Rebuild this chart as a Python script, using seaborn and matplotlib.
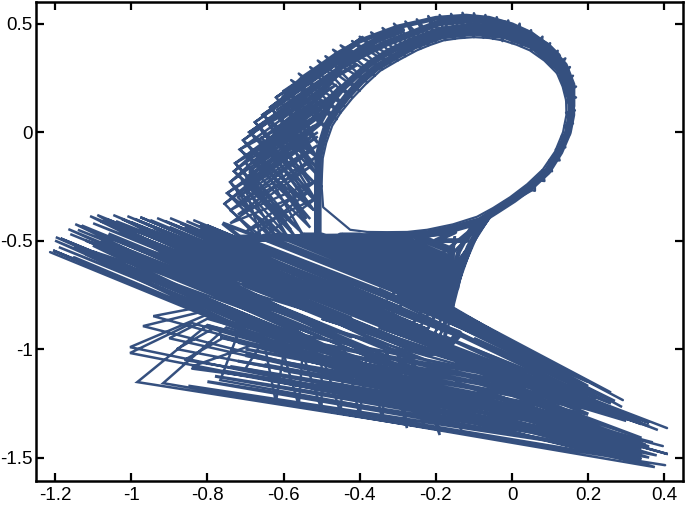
import matplotlib
matplotlib.use("Agg")
import matplotlib.pyplot as plt
import seaborn as sns

x_ticks = [-1.2, -1, -0.8, -0.6, -0.4, -0.2, 0, 0.2, 0.4]
x_tick_labels = ["-1.2", "-1", "-0.8", "-0.6", "-0.4", "-0.2", "0", "0.2", "0.4"]
y_ticks = [-1.5, -1, -0.5, 0, 0.5]
y_tick_labels = ["-1.5", "-1", "-0.5", "0", "0.5"]

ring_x = [-0.60,-0.46,-0.58,-0.45,-0.56,-0.44,-0.53,-0.42,-0.51,-0.40,-0.49,-0.38,-0.47,-0.36,-0.45,-0.34,-0.42,-0.32,-0.40,-0.30,
          -0.37,-0.28,-0.34,-0.26,-0.31,-0.24,-0.28,-0.22,-0.25,-0.20,-0.22,-0.175,-0.19,-0.15,-0.16,-0.125,-0.13,-0.10,-0.10,-0.075,
          -0.07,-0.05,-0.04,-0.025,-0.01,0.0,0.02,0.025,0.05,0.05,0.08,0.072,0.10,0.09,0.12,0.105,0.14,0.118,0.152,0.127,
          0.16,0.135,0.168,0.14,0.168,0.142,0.165,0.142,0.16,0.138,0.152,0.13,0.14,0.115,0.125,0.098,0.105,0.08,0.085,0.06,0.06,0.03]
ring_y = [0.19,0.06,0.24,0.09,0.27,0.12,0.30,0.16,0.33,0.19,0.35,0.23,0.38,0.26,0.40,0.29,0.42,0.315,0.44,0.33,
          0.46,0.35,0.48,0.37,0.50,0.385,0.51,0.40,0.52,0.415,0.535,0.425,0.54,0.43,0.545,0.435,0.55,0.438,0.548,0.435,
          0.54,0.43,0.53,0.42,0.515,0.41,0.50,0.395,0.47,0.375,0.44,0.35,0.41,0.33,0.375,0.30,0.34,0.272,0.30,0.24,
          0.26,0.21,0.21,0.18,0.16,0.147,0.10,0.09,0.04,0.03,-0.01,-0.02,-0.07,-0.08,-0.13,-0.13,-0.18,-0.175,-0.225,-0.22,-0.27,-0.26]

inner_x = [-0.50,-0.499,-0.497,-0.488,-0.472,-0.45,-0.42,-0.385,-0.346,-0.30,-0.25,-0.215,-0.18,-0.14,-0.10,-0.06,-0.024,0.012,0.047,0.085,
           0.118,0.133,0.142,0.143,0.134,0.113,0.081,0.04,-0.005,-0.05,-0.092,-0.155,-0.223,-0.275,-0.328,-0.38,-0.425,-0.496,-0.50]
inner_y = [-0.25,-0.19,-0.12,-0.05,0.03,0.09,0.155,0.22,0.283,0.33,0.377,0.402,0.423,0.433,0.438,0.434,0.423,0.403,0.377,0.33,
           0.272,0.21,0.147,0.08,0.0,-0.09,-0.172,-0.24,-0.30,-0.35,-0.39,-0.425,-0.45,-0.46,-0.461,-0.46,-0.45,-0.346,-0.25]

body1_x = [-0.51,-0.51,-0.509,-0.50,-0.485,-0.462,-0.432,-0.397,-0.356,-0.308,-0.257,-0.185,-0.10,-0.02,0.055,0.128,0.155,0.156,0.147,0.125,0.093,0.05,0.004,-0.04,-0.085,-0.155,-0.223,-0.30,-0.45,-0.72]
body1_y = [-0.48,-0.25,-0.12,-0.05,0.035,0.10,0.168,0.235,0.298,0.348,0.398,0.445,0.462,0.447,0.398,0.286,0.15,0.08,0.0,-0.09,-0.18,-0.25,-0.31,-0.36,-0.41,-0.445,-0.47,-0.48,-0.485,-0.49]
body2_x = [-0.505,-0.48,-0.447,-0.41,-0.37,-0.325,-0.265,-0.19,-0.10,-0.02,0.05,0.10,0.14,0.155]
body2_y = [0.05,0.13,0.20,0.26,0.32,0.37,0.42,0.47,0.49,0.475,0.43,0.37,0.28,0.20]
body3_x = [-0.44,-0.39,-0.33,-0.27,-0.19,-0.10,-0.02,0.04,0.09,0.12]
body3_y = [0.31,0.36,0.41,0.45,0.505,0.52,0.50,0.455,0.40,0.35]
body4_x = [-0.47,-0.44,-0.39,-0.35,-0.29]
body4_y = [0.25,0.33,0.39,0.43,0.47]
edge_x = [-0.60,-0.55,-0.50,-0.46,-0.40,-0.30,-0.20,-0.12,-0.06,0.0,0.05,0.10,0.14,0.16,0.16]
edge_y = [0.16,0.25,0.31,0.36,0.42,0.485,0.525,0.535,0.525,0.495,0.455,0.39,0.31,0.22,0.12]
row1_x = [-0.57,-0.52,-0.47,-0.42]
row1_y = [0.19,0.26,0.32,0.37]
row2_x = [-0.55,-0.50,-0.46,-0.41]
row2_y = [0.13,0.20,0.26,0.31]
row3_x = [-0.52,-0.49,-0.45]
row3_y = [0.07,0.14,0.21]

lattice_x = [-0.755,-0.51,-0.748,-0.62,-0.74,-0.49,-0.727,-0.56,-0.73,-0.48,-0.715,-0.53,-0.706,-0.46,-0.69,-0.51,-0.675,-0.43,-0.655,-0.51,-0.635,-0.41,-0.62,-0.51,-0.60,-0.39,
             -0.62,-0.40,-0.635,-0.51,-0.655,-0.42,-0.675,-0.52,-0.69,-0.44,-0.706,-0.52,-0.715,-0.47,-0.73,-0.58,-0.727,-0.50,-0.74,-0.60,-0.748,-0.50,-0.755,-0.66]
lattice_y = [-0.33,-0.02,-0.281,-0.51,-0.23,0.09,-0.143,-0.45,-0.18,0.14,-0.08,-0.40,-0.037,0.27,0.0,-0.33,0.046,0.35,0.08,-0.17,0.115,0.40,0.16,-0.05,0.19,0.44,
             0.16,0.43,0.115,-0.12,0.08,0.37,0.046,-0.23,0.0,0.31,-0.037,-0.36,-0.08,0.23,-0.18,-0.45,-0.143,0.15,-0.23,-0.48,-0.281,0.04,-0.33,-0.50]
rising_x = [-0.65,-0.51,-0.70,-0.51,-0.72,-0.51,-0.72,-0.51,-0.71,-0.51,-0.70,-0.50,-0.69,-0.49,-0.68,-0.48,-0.66,-0.46,-0.64,-0.45,-0.62,-0.43]
rising_y = [-0.48,-0.30,-0.46,-0.22,-0.38,-0.11,-0.33,-0.06,-0.27,0.0,-0.21,0.05,-0.15,0.10,-0.09,0.16,-0.03,0.22,0.04,0.28,0.10,0.33]
falling_x = [-0.72,-0.62,-0.71,-0.57,-0.70,-0.53,-0.68,-0.52,-0.66,-0.52,-0.64,-0.51,-0.62,-0.51,-0.60,-0.51,-0.58,-0.49,-0.56,-0.47]
falling_y = [-0.30,-0.48,-0.22,-0.48,-0.14,-0.44,-0.08,-0.36,-0.02,-0.30,0.04,-0.20,0.09,-0.12,0.13,-0.05,0.17,0.02,0.21,0.08]
rising2_x = [-0.68,-0.53,-0.74,-0.53,-0.74,-0.53,-0.72,-0.53,-0.70,-0.52,-0.69,-0.52,-0.67,-0.51,-0.65,-0.49,-0.63,-0.47,-0.61,-0.45]
rising2_y = [-0.48,-0.27,-0.42,-0.16,-0.36,-0.09,-0.30,-0.03,-0.24,0.03,-0.18,0.07,-0.12,0.11,-0.06,0.18,0.0,0.24,0.06,0.30]
falling2_x = [-0.74,-0.66,-0.70,-0.59,-0.69,-0.55,-0.67,-0.54,-0.65,-0.54,-0.63,-0.53,-0.61,-0.53,-0.59,-0.53,-0.57,-0.52]
falling2_y = [-0.36,-0.48,-0.26,-0.48,-0.18,-0.47,-0.11,-0.40,-0.05,-0.32,0.01,-0.24,0.07,-0.16,0.11,-0.08,0.15,-0.02]

wing_x = [-1.213,-0.30,-1.205,-0.42,-1.20,-0.22,-1.19,-0.50,-1.198,-0.30,-1.185,-0.42,-1.165,-0.22,-1.16,-0.50,-1.15,-0.30,-1.147,-0.42,
          -1.14,-0.22,-1.13,-0.50,-1.12,-0.30,-1.108,-0.42,-1.10,-0.22,-1.10,-0.50,-1.089,-0.30,-1.08,-0.42,-1.08,-0.22,-1.065,-0.50,
          -1.047,-0.30,-1.04,-0.42,-1.03,-0.22,-1.025,-0.50,-1.01,-0.30,-1.0,-0.42,-0.99,-0.22,-0.976,-0.50,-0.965,-0.30,-0.95,-0.42,
          -0.932,-0.22,-0.925,-0.50,-0.91,-0.30,-0.898,-0.42,-0.885,-0.22,-0.87,-0.50,-0.855,-0.30,-0.837,-0.42,-0.82,-0.22,-0.80,-0.50,-0.785,-0.30]
wing_y = [-0.553,-1.21,-0.545,-1.11,-0.50,-1.206,-0.53,-1.027,-0.484,-1.131,-0.49,-1.041,-0.447,-1.127,-0.47,-0.945,-0.53,-1.142,-0.424,-0.947,
          -0.45,-1.112,-0.43,-0.884,-0.50,-1.09,-0.387,-0.882,-0.42,-1.054,-0.55,-0.982,-0.382,-0.95,-0.41,-0.885,-0.53,-1.149,-0.40,-0.807,
          -0.382,-0.92,-0.41,-0.856,-0.50,-1.083,-0.40,-0.778,-0.387,-0.898,-0.415,-0.833,-0.40,-0.954,-0.392,-0.735,-0.42,-0.899,-0.405,-0.787,
          -0.396,-0.909,-0.43,-0.736,-0.41,-0.849,-0.396,-0.74,-0.43,-0.909,-0.42,-0.686,-0.41,-0.81,-0.405,-0.705,-0.43,-0.862,-0.43,-0.646,-0.452,-0.801]
wing_fill_x = [-1.15,-0.70,-1.12,-0.70,-1.10,-0.70,-1.08,-0.70,-1.06,-0.70,-1.02,-0.70,-0.98,-0.70,-0.94,-0.70,-0.90,-0.70,-0.86,-0.70,-0.82,-0.70,-0.78,-0.68,-0.76,-0.64]
wing_fill_y = [-0.58,-0.91,-0.56,-0.86,-0.52,-0.81,-0.50,-0.77,-0.47,-0.73,-0.46,-0.69,-0.45,-0.65,-0.44,-0.61,-0.44,-0.585,-0.44,-0.555,-0.45,-0.53,-0.47,-0.53,-0.42,-0.50]

tail_upper_x = [0.291,-0.45,0.289,-0.40,0.26,-0.30,0.24,-0.35,0.20,-0.25,0.22,-0.40,0.15,-0.30,0.10,-0.20,0.12,-0.45,0.05,-0.25,0.0,-0.35,0.02,-0.30]
tail_upper_y = [-1.235,-0.55,-1.267,-0.62,-1.20,-0.68,-1.22,-0.72,-1.17,-0.74,-1.23,-0.70,-1.12,-0.66,-1.08,-0.78,-1.12,-0.60,-1.03,-0.75,-0.99,-0.66,-1.03,-0.75]
tail_mid_x = [0.407,-0.55,0.383,-0.50,0.36,-0.60,0.33,-0.45,0.30,-0.55,0.26,-0.40,0.22,-0.50,0.16,-0.35,0.12,-0.45]
tail_mid_y = [-1.364,-0.72,-1.373,-0.78,-1.34,-0.72,-1.32,-0.80,-1.32,-0.80,-1.28,-0.85,-1.26,-0.86,-1.22,-0.90,-1.20,-0.92]
tail_low_x = [0.396,-0.75,0.409,-0.80,0.37,-0.72,0.35,-0.766,0.32,-0.60,0.28,-0.70,0.24,-0.55,0.20,-0.65,0.15,-0.60,0.10,-0.50]
tail_low_y = [-1.447,-0.92,-1.484,-0.889,-1.43,-0.97,-1.44,-0.945,-1.42,-1.0,-1.40,-1.02,-1.37,-1.05,-1.36,-1.07,-1.33,-1.10,-1.30,-1.12]
tail_left_x = [0.402,-0.984,-0.80,0.375,-0.916,-0.75,0.36,-0.766,-0.72,0.38,-1.003,-0.84,0.34,-1.003,-0.80,0.30,-0.969,-0.82,0.28,-0.942,-0.80,0.25,-0.84,-0.68,0.22,-0.70,-0.66,0.21,-0.90,-0.80,0.2,-0.88,-0.78,0.19,-0.86,-0.76,0.18,-0.84]
tail_left_y = [-1.535,-1.152,-0.889,-1.544,-1.157,-0.90,-1.50,-1.143,-0.93,-1.49,-1.018,-0.88,-1.48,-0.991,-0.84,-1.46,-0.894,-0.83,-1.44,-0.848,-0.80,-1.43,-1.08,-0.98,-1.41,-1.09,-0.98,-1.39,-0.95,-0.86,-1.37,-1.00,-0.90,-1.35,-1.05,-0.95,-1.33,-1.09]

long_x = [-0.65,0.2,-0.65,0.2,-0.65,0.2,-0.70,0.2,-0.70,0.2,-0.70,0.2,-0.72,0.2,-0.74,0.2,-0.76,0.2,-0.78,0.2,-0.80,0.2,-0.85,0.2]
long_y = [-0.90,-1.20,-0.93,-1.225,-0.96,-1.25,-0.97,-1.275,-1.00,-1.30,-1.03,-1.325,-1.055,-1.35,-1.08,-1.375,-1.10,-1.40,-1.125,-1.425,-1.15,-1.45,-1.17,-1.475]
tail_fill_x = [-0.18,0.2,-0.18,0.2,-0.18,0.2,-0.18,0.2,-0.18,0.18,-0.15,0.2,-0.15,0.22,-0.15,0.22,-0.15,0.22,-0.15,0.22]
tail_fill_y = [-0.82,-1.15,-0.86,-1.19,-0.90,-1.22,-0.94,-1.25,-0.98,-1.27,-1.02,-1.30,-1.06,-1.34,-1.10,-1.37,-1.15,-1.40,-1.20,-1.43]
tail_reach_x = [-0.1,0.27,-0.1,0.26,-0.1,0.34,-0.1,0.34,-0.1,0.36,-0.1,0.30,-0.1,0.34,-0.1,0.34,-0.1,0.36,-0.1,0.34,-0.1,0.34,-0.1,0.34,-0.1,0.33,-0.1,0.32]
tail_reach_y = [-0.92,-1.24,-0.95,-1.25,-1.0,-1.33,-1.03,-1.345,-1.06,-1.355,-1.09,-1.33,-1.12,-1.41,-1.15,-1.43,-1.18,-1.45,-1.21,-1.46,-1.25,-1.50,-1.28,-1.51,-1.31,-1.52,-1.34,-1.52]

cross_x = [-0.13,-0.22,-0.19,-0.27,-0.23,-0.30,-0.276,-0.33,-0.34,-0.38,-0.40,-0.44,-0.45,-0.50,-0.50,-0.55,-0.56,-0.60,-0.62,-0.65]
cross_y = [-1.385,-1.05,-1.396,-1.0,-1.36,-1.02,-1.364,-1.0,-1.33,-1.0,-1.31,-1.0,-1.295,-1.02,-1.28,-1.02,-1.26,-1.02,-1.245,-0.98]

flare_x = [0.05,-0.03,0.0,-0.33,-0.02,-0.32,-0.04,-0.28,-0.06,-0.26,-0.075,-0.24,-0.09,-0.22,-0.105,-0.205,-0.125,-0.18,-0.15,-0.17]
flare_y = [-0.27,-0.35,-0.30,-0.77,-0.32,-0.85,-0.35,-0.93,-0.395,-0.95,-0.415,-0.97,-0.47,-1.0,-0.52,-1.02,-0.60,-0.98,-0.48,-0.85]
flare_fill_x = [-0.075,-0.115,-0.135,-0.145,-0.155,-0.14,-0.10,-0.12,-0.20,-0.15,-0.25]
flare_fill_y = [-0.40,-0.53,-0.63,-0.72,-0.65,-0.55,-0.42,-0.50,-0.50,-0.46,-0.48]

core_x = [-0.25,-0.16,-0.16,-0.30,-0.35,-0.16,-0.16,-0.40,-0.45,-0.16,-0.16,-0.50,-0.55,-0.16,-0.16,-0.60,-0.65,-0.15,-0.14,-0.70,-0.72,-0.14,-0.16,-0.72,-0.72,-0.18,-0.22,-0.72,-0.72,-0.28,-0.25,-0.70]
core_y = [-0.48,-0.545,-0.585,-0.48,-0.48,-0.62,-0.655,-0.48,-0.48,-0.69,-0.725,-0.48,-0.48,-0.76,-0.795,-0.48,-0.485,-0.835,-0.88,-0.50,-0.54,-0.93,-0.97,-0.58,-0.62,-1.0,-1.02,-0.66,-0.66,-0.98,-1.0,-0.70]

plt.rcParams["axes.unicode_minus"] = False
sns.set_style("white")
plt.rcParams["font.family"] = ["Liberation Sans", "DejaVu Sans"]

fig = plt.figure(figsize=(6.85, 5.05), dpi=100)
ax = fig.add_axes([36 / 685, 24 / 505, 647 / 685, 479 / 505])
line_color = "#35507f"


def draw(xs, ys, width=1.8, join="miter"):
    sns.lineplot(x=xs, y=ys, sort=False, estimator=None, color=line_color, linewidth=width,
                 solid_joinstyle=join, ax=ax)


draw(core_x, core_y, 5.5, "round")
for xs, ys in [(body2_x, body2_y), (body3_x, body3_y), (body4_x, body4_y)]:
    draw(xs, ys, 5.0, "round")
draw(body1_x, body1_y, 5.5, "round")
draw(edge_x, edge_y, 3.5, "round")
for xs, ys in [(row1_x, row1_y), (row2_x, row2_y), (row3_x, row3_y)]:
    draw(xs, ys, 3.0, "round")
draw(flare_fill_x, flare_fill_y, 3.5, "round")
draw(wing_fill_x, wing_fill_y, 2.8)
draw(long_x, long_y, 2.2)
draw(tail_fill_x, tail_fill_y, 2.4)
draw(tail_reach_x, tail_reach_y, 2.2)
draw(ring_x, ring_y, 1.8, "round")
draw(inner_x, inner_y, 1.6, "round")
for xs, ys in [(lattice_x, lattice_y), (rising_x, rising_y), (falling_x, falling_y), (rising2_x, rising2_y),
               (falling2_x, falling2_y), (wing_x, wing_y), (tail_upper_x, tail_upper_y), (tail_mid_x, tail_mid_y),
               (tail_low_x, tail_low_y), (tail_left_x, tail_left_y), (cross_x, cross_y), (flare_x, flare_y)]:
    draw(xs, ys)

ax.set_xlim(-1.25, 0.449)
ax.set_ylim(-1.608, 0.60)
ax.set_xticks(x_ticks, x_tick_labels)
ax.set_yticks(y_ticks, y_tick_labels)
ax.tick_params(axis="both", which="major", direction="in", length=6, width=1.6, labelsize=13.5,
               top=True, right=True, bottom=True, left=True, colors="black")
ax.tick_params(axis="y", pad=2.5)
ax.tick_params(axis="x", pad=4)
for spine in ax.spines.values():
    spine.set_visible(True)
    spine.set_color("black")
    spine.set_linewidth(1.8)

fig.savefig("out.png", dpi=100)
